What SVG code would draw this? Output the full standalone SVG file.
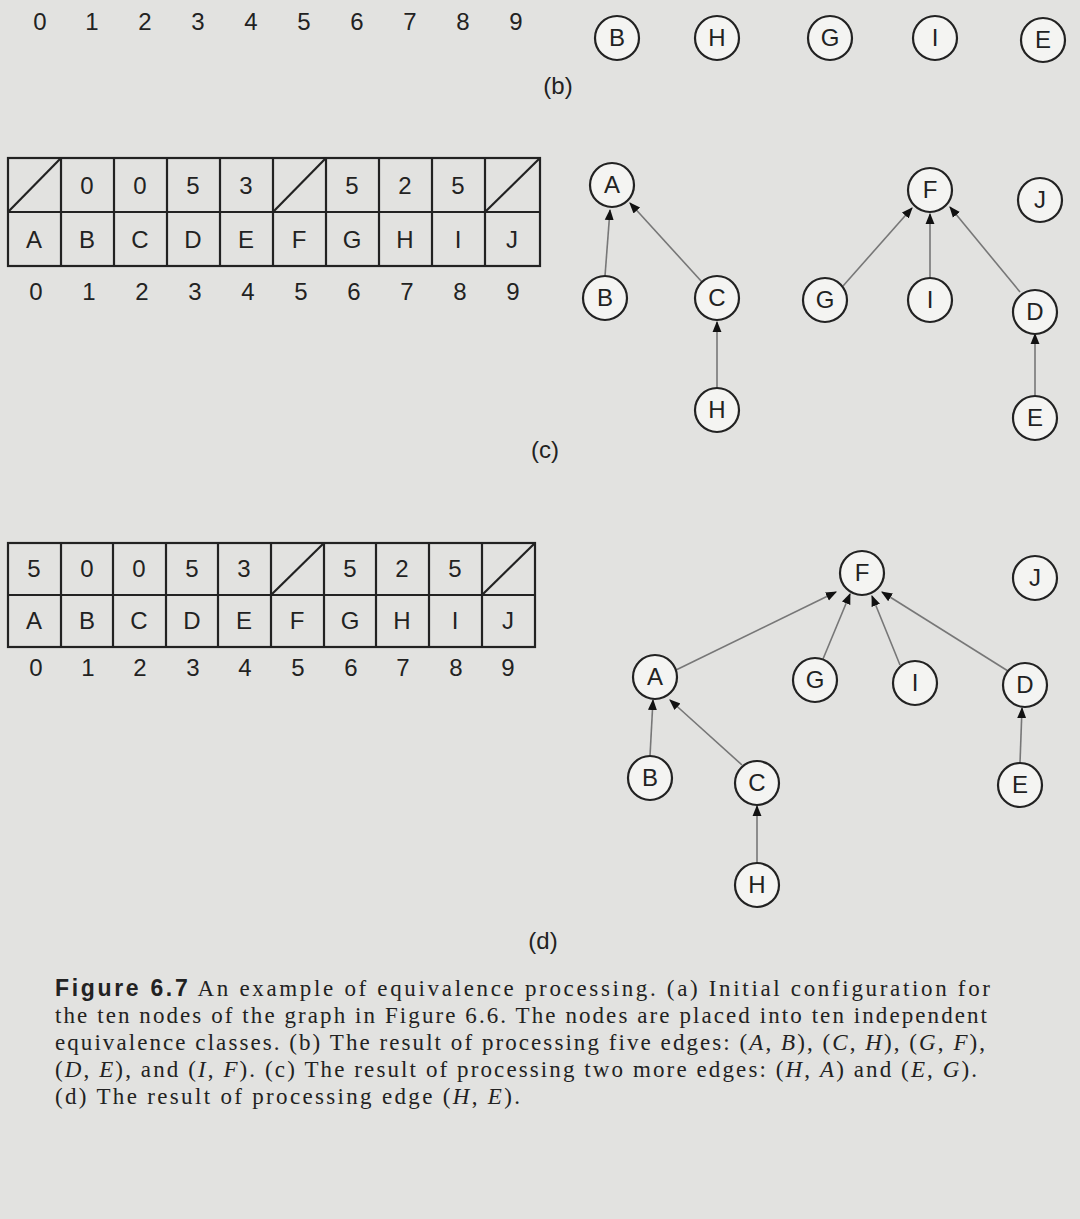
<svg xmlns="http://www.w3.org/2000/svg" width="1080" height="1219" viewBox="0 0 1080 1219">
<defs>
<marker id="ah" viewBox="0 0 10 10" refX="9" refY="5" markerWidth="7" markerHeight="7" orient="auto"><path d="M0,1 L10,5 L0,9 z" fill="#111"/></marker>
</defs>
<style>
.n circle{fill:#f4f4f2;stroke:#222;stroke-width:2.2}
.n text,.t{font-family:"Liberation Sans",Arial,sans-serif;font-size:24px;fill:#222;text-anchor:middle}
.c line{stroke:#777;stroke-width:1.6;marker-end:url(#ah)}
.cell{fill:none;stroke:#222;stroke-width:2.2}
.cap{font-family:"Liberation Serif",serif;font-size:23px;fill:#222}
</style>
<rect width="1080" height="1219" fill="#e2e2e0"/>
<g id="idx-a" class="t"><text x="40" y="30">0</text><text x="92" y="30">1</text><text x="145" y="30">2</text><text x="198" y="30">3</text><text x="251" y="30">4</text><text x="304" y="30">5</text><text x="357" y="30">6</text><text x="410" y="30">7</text><text x="463" y="30">8</text><text x="516" y="30">9</text></g>
<g id="b-nodes" class="n">
<circle cx="617" cy="38" r="22"/><text x="617" y="46">B</text>
<circle cx="717" cy="38" r="22"/><text x="717" y="46">H</text>
<circle cx="830" cy="38" r="22"/><text x="830" y="46">G</text>
<circle cx="935" cy="38" r="22"/><text x="935" y="46">I</text>
<circle cx="1043" cy="40" r="22"/><text x="1043" y="48">E</text>
</g>
<text class="t" x="558" y="94" font-size="18">(b)</text>
<g id="table-c">
<rect class="cell" x="8" y="158" width="532" height="108"/>
<line class="cell" x1="8" y1="212" x2="540" y2="212"/>
<g class="cell"><line x1="61" y1="158" x2="61" y2="266"/><line x1="114" y1="158" x2="114" y2="266"/><line x1="167" y1="158" x2="167" y2="266"/><line x1="220" y1="158" x2="220" y2="266"/><line x1="273" y1="158" x2="273" y2="266"/><line x1="326" y1="158" x2="326" y2="266"/><line x1="379" y1="158" x2="379" y2="266"/><line x1="432" y1="158" x2="432" y2="266"/><line x1="485" y1="158" x2="485" y2="266"/>
<line x1="8" y1="212" x2="61" y2="158"/><line x1="273" y1="212" x2="326" y2="158"/><line x1="485" y1="212" x2="540" y2="158"/></g>
<g class="t"><text x="87" y="194">0</text><text x="140" y="194">0</text><text x="193" y="194">5</text><text x="246" y="194">3</text><text x="352" y="194">5</text><text x="405" y="194">2</text><text x="458" y="194">5</text>
<text x="34" y="248">A</text><text x="87" y="248">B</text><text x="140" y="248">C</text><text x="193" y="248">D</text><text x="246" y="248">E</text><text x="299" y="248">F</text><text x="352" y="248">G</text><text x="405" y="248">H</text><text x="458" y="248">I</text><text x="512" y="248">J</text>
<text x="36" y="300">0</text><text x="89" y="300">1</text><text x="142" y="300">2</text><text x="195" y="300">3</text><text x="248" y="300">4</text><text x="301" y="300">5</text><text x="354" y="300">6</text><text x="407" y="300">7</text><text x="460" y="300">8</text><text x="513" y="300">9</text></g>
</g>
<g id="conn-c" class="c">
<line x1="605" y1="276" x2="610" y2="210"/><line x1="702" y1="282" x2="630" y2="203"/><line x1="717" y1="388" x2="717" y2="322"/>
<line x1="843" y1="286" x2="912" y2="208"/><line x1="930" y1="278" x2="930" y2="214"/><line x1="1020" y1="292" x2="950" y2="207"/><line x1="1035" y1="396" x2="1035" y2="334"/>
</g>
<g id="c-nodes" class="n">
<circle cx="612" cy="185" r="22"/><text x="612" y="193">A</text>
<circle cx="605" cy="298" r="22"/><text x="605" y="306">B</text>
<circle cx="717" cy="298" r="22"/><text x="717" y="306">C</text>
<circle cx="717" cy="410" r="22"/><text x="717" y="418">H</text>
<circle cx="930" cy="190" r="22"/><text x="930" y="198">F</text>
<circle cx="1040" cy="200" r="22"/><text x="1040" y="208">J</text>
<circle cx="825" cy="300" r="22"/><text x="825" y="308">G</text>
<circle cx="930" cy="300" r="22"/><text x="930" y="308">I</text>
<circle cx="1035" cy="312" r="22"/><text x="1035" y="320">D</text>
<circle cx="1035" cy="418" r="22"/><text x="1035" y="426">E</text>
</g>
<text class="t" x="545" y="458" font-size="18">(c)</text>
<g id="table-d">
<rect class="cell" x="8" y="543" width="527" height="104"/>
<line class="cell" x1="8" y1="595" x2="535" y2="595"/>
<g class="cell"><line x1="61" y1="543" x2="61" y2="647"/><line x1="113" y1="543" x2="113" y2="647"/><line x1="166" y1="543" x2="166" y2="647"/><line x1="218" y1="543" x2="218" y2="647"/><line x1="271" y1="543" x2="271" y2="647"/><line x1="324" y1="543" x2="324" y2="647"/><line x1="376" y1="543" x2="376" y2="647"/><line x1="429" y1="543" x2="429" y2="647"/><line x1="482" y1="543" x2="482" y2="647"/>
<line x1="271" y1="595" x2="324" y2="543"/><line x1="482" y1="595" x2="535" y2="543"/></g>
<g class="t"><text x="34" y="577">5</text><text x="87" y="577">0</text><text x="139" y="577">0</text><text x="192" y="577">5</text><text x="244" y="577">3</text><text x="350" y="577">5</text><text x="402" y="577">2</text><text x="455" y="577">5</text>
<text x="34" y="629">A</text><text x="87" y="629">B</text><text x="139" y="629">C</text><text x="192" y="629">D</text><text x="244" y="629">E</text><text x="297" y="629">F</text><text x="350" y="629">G</text><text x="402" y="629">H</text><text x="455" y="629">I</text><text x="508" y="629">J</text>
<text x="36" y="676">0</text><text x="88" y="676">1</text><text x="140" y="676">2</text><text x="193" y="676">3</text><text x="245" y="676">4</text><text x="298" y="676">5</text><text x="351" y="676">6</text><text x="403" y="676">7</text><text x="456" y="676">8</text><text x="508" y="676">9</text></g>
</g>
<g id="conn-d" class="c">
<line x1="676" y1="670" x2="836" y2="592"/><line x1="823" y1="659" x2="850" y2="594"/><line x1="900" y1="665" x2="872" y2="596"/><line x1="1008" y1="671" x2="882" y2="592"/>
<line x1="650" y1="756" x2="653" y2="700"/><line x1="742" y1="765" x2="670" y2="700"/><line x1="757" y1="863" x2="757" y2="806"/><line x1="1020" y1="763" x2="1022" y2="708"/>
</g>
<g id="d-nodes" class="n">
<circle cx="862" cy="573" r="22"/><text x="862" y="581">F</text>
<circle cx="1035" cy="578" r="22"/><text x="1035" y="586">J</text>
<circle cx="655" cy="677" r="22"/><text x="655" y="685">A</text>
<circle cx="815" cy="680" r="22"/><text x="815" y="688">G</text>
<circle cx="915" cy="683" r="22"/><text x="915" y="691">I</text>
<circle cx="1025" cy="685" r="22"/><text x="1025" y="693">D</text>
<circle cx="650" cy="778" r="22"/><text x="650" y="786">B</text>
<circle cx="757" cy="783" r="22"/><text x="757" y="791">C</text>
<circle cx="1020" cy="785" r="22"/><text x="1020" y="793">E</text>
<circle cx="757" cy="885" r="22"/><text x="757" y="893">H</text>
</g>
<text class="t" x="543" y="949" font-size="18">(d)</text>
<g id="caption" class="cap">
<text x="55" y="996" textLength="935" lengthAdjust="spacing"><tspan font-family="Liberation Sans,Arial,sans-serif" font-weight="bold">Figure 6.7</tspan> An example of equivalence processing. (a) Initial configuration for</text>
<text x="55" y="1023" textLength="932" lengthAdjust="spacing">the ten nodes of the graph in Figure 6.6. The nodes are placed into ten independent</text>
<text x="55" y="1050" textLength="930" lengthAdjust="spacing">equivalence classes. (b) The result of processing five edges: (<tspan font-style="italic">A</tspan>, <tspan font-style="italic">B</tspan>), (<tspan font-style="italic">C</tspan>, <tspan font-style="italic">H</tspan>), (<tspan font-style="italic">G</tspan>, <tspan font-style="italic">F</tspan>),</text>
<text x="55" y="1077" textLength="922" lengthAdjust="spacing">(<tspan font-style="italic">D</tspan>, <tspan font-style="italic">E</tspan>), and (<tspan font-style="italic">I</tspan>, <tspan font-style="italic">F</tspan>). (c) The result of processing two more edges: (<tspan font-style="italic">H</tspan>, <tspan font-style="italic">A</tspan>) and (<tspan font-style="italic">E</tspan>, <tspan font-style="italic">G</tspan>).</text>
<text x="55" y="1104" textLength="465" lengthAdjust="spacing">(d) The result of processing edge (<tspan font-style="italic">H</tspan>, <tspan font-style="italic">E</tspan>).</text>
</g>
</svg>
